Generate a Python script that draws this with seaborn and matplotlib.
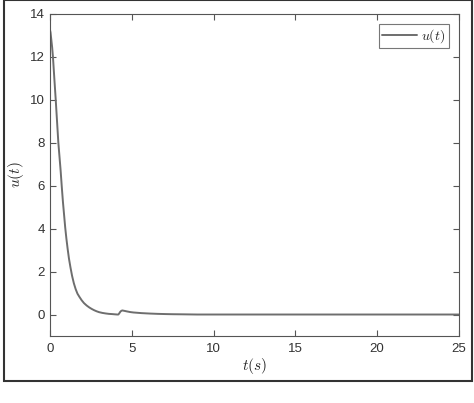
import pandas as pd
import seaborn as sns
import matplotlib.pyplot as plt
from matplotlib.patches import Rectangle

# values
t = [0.0, 0.03, 0.08, 0.13, 0.18, 0.26, 0.35, 0.43, 0.51, 0.58, 0.65, 0.72,
     0.79, 0.86, 0.93, 1.0, 1.08, 1.16, 1.25, 1.35, 1.46, 1.57, 1.68, 1.8,
     1.94, 2.08, 2.24, 2.4, 2.55, 2.7, 2.85, 3.0, 3.2, 3.4, 3.6, 3.8, 3.95,
     4.11, 4.18, 4.24, 4.3, 4.36, 4.42, 4.55, 4.7, 4.9, 5.1, 5.35, 5.6, 5.85,
     6.1, 6.6, 7.1, 7.5, 8.0, 8.5, 9.0, 10.0, 15.0, 20.0, 25.0]
u = [13.25, 13.15, 12.8, 12.45, 12.0, 11.05, 10.0, 9.0, 8.0, 7.35, 6.7, 5.95,
     5.25, 4.65, 4.05, 3.55, 3.05, 2.6, 2.2, 1.8, 1.45, 1.18, 0.97, 0.82,
     0.66, 0.53, 0.42, 0.33, 0.26, 0.2, 0.15, 0.11, 0.075, 0.05, 0.03, 0.02,
     0.01, 0.0, 0.0, 0.06, 0.13, 0.17, 0.19, 0.17, 0.145, 0.115, 0.095, 0.08,
     0.065, 0.055, 0.045, 0.03, 0.02, 0.014, 0.01, 0.005, 0.0, 0.0, 0.0, 0.0,
     0.0]
df = pd.DataFrame({'t': t, 'u': u})

sns.set_style('ticks', {'xtick.direction': 'in', 'ytick.direction': 'in'})
plt.rcParams['font.family'] = ['Liberation Sans', 'DejaVu Sans']
plt.rcParams['mathtext.fontset'] = 'cm'

fig = plt.figure(figsize=(4.74, 4.03), dpi=100)
ax = fig.add_axes([0.1055, 0.1663, 0.8625, 0.799])

sns.lineplot(x='t', y='u', data=df, ax=ax, color='#6e6e6e', linewidth=1.4, label='$u(t)$')

ax.set_xlim(0, 25)
ax.set_ylim(-1, 14)
ax.set_xticks([0, 5, 10, 15, 20, 25])
ax.set_yticks([0, 2, 4, 6, 8, 10, 12, 14])
ax.tick_params(direction='in', length=4, width=0.8, color='#555555',
               labelsize=9.5, labelcolor='#333333', bottom=True, left=True,
               top=True, right=True)
ax.tick_params(axis='y', pad=3.5)
ax.tick_params(axis='x', pad=5)
for s in ax.spines.values():
    s.set_visible(True)
    s.set_color('#555555')
    s.set_linewidth(0.8)
ax.set_xlabel('$t(s)$', fontsize=11, labelpad=1)
ax.set_ylabel('$u(t)$', fontsize=11, labelpad=3)

leg = ax.legend(loc='upper right', fontsize=10, frameon=True, fancybox=False,
                handlelength=2.5, handletextpad=0.3, borderpad=0.25,
                borderaxespad=0.7)
leg.get_frame().set_edgecolor('#555555')
leg.get_frame().set_linewidth(0.8)

# outer frame around the figure
fig.patches.append(Rectangle((4 / 474, 1 - 381 / 403), 468 / 474, 381 / 403,
                             transform=fig.transFigure, fill=False,
                             edgecolor='#333333', linewidth=1.5))

fig.savefig('out.png', dpi=100)
